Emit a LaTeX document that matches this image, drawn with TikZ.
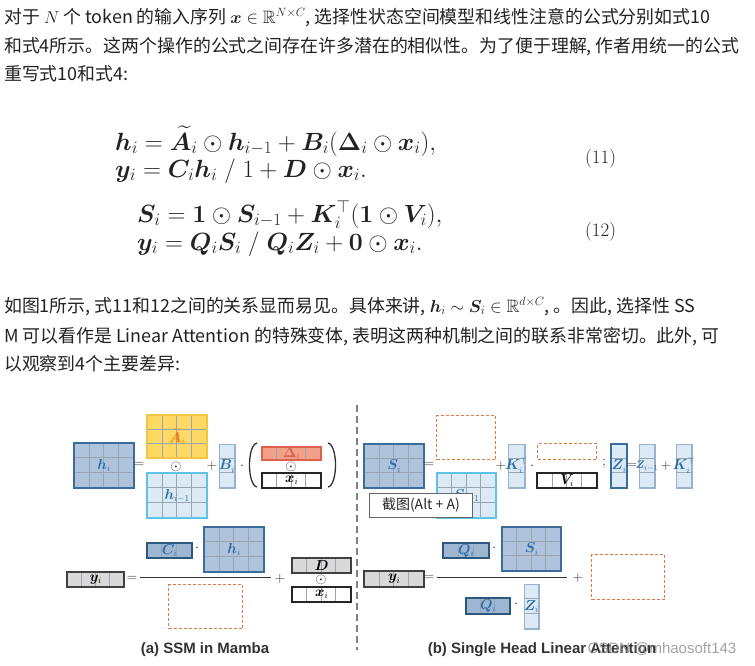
\documentclass[tikz,border=0pt]{standalone}
\usepackage{amsmath,amssymb,bm}
\usepackage{fontspec}
\newfontfamily\cjk{Noto Sans CJK SC}
\newfontfamily\arl{Liberation Sans}
\definecolor{txt}{HTML}{222222}
\definecolor{dblue}{HTML}{3A6D9C}
\definecolor{lblue}{HTML}{2E6DA8}
\definecolor{fdark}{HTML}{AFC4DC}
\definecolor{fmid}{HTML}{C3D5E8}
\definecolor{flight}{HTML}{DCEAF6}
\definecolor{cyanb}{HTML}{5EC4E4}
\definecolor{ylw}{HTML}{FFD966}
\definecolor{ylwb}{HTML}{F2C640}
\definecolor{salm}{HTML}{F2A08A}
\definecolor{salmb}{HTML}{E0604A}
\definecolor{dash}{HTML}{E07A45}
\definecolor{gfill}{HTML}{D9D9D9}
\definecolor{gl}{HTML}{9AA6B2}
\tikzset{
 hbox/.style={fill=fdark,draw=dblue,line width=1.2pt},
 sbox/.style={fill=fdark,draw=dblue,line width=1.2pt},
 abox/.style={fill=ylw,draw=ylwb,line width=1.2pt},
 cbox/.style={fill=flight,draw=cyanb,line width=1.2pt},
 bbox/.style={fill=flight,draw=fdark!80!dblue,line width=1pt},
 zbox/.style={fill=flight,draw=dblue,line width=1.2pt},
 dbox/.style={fill=salm,draw=salmb,line width=1.2pt},
 xbox/.style={fill=white,draw=black!85,line width=1.3pt},
 gbx/.style={fill=gfill,draw=black!75,line width=1.3pt},
 qbox/.style={fill=fdark!85!dblue,draw=dblue!80!black,line width=1.3pt},
 dashbox/.style={draw=dash,line width=1.4pt,dash pattern=on 3pt off 2pt},
 gridl/.style={draw=gl,line width=0.5pt},
 lab/.style={font=\fontsize{13.5}{14}\selectfont,text=lblue},
 op/.style={font=\fontsize{14}{15}\selectfont,text=black!80},
 para/.style={anchor=base west,inner sep=0,text=txt,font=\cjk\fontsize{17.9}{20}\selectfont},
 eq/.style={anchor=base west,inner sep=0,text=txt,font=\fontsize{23}{26}\selectfont},
}
% name,x1,y1,x2,y2,cols,rows,style,label
\newcommand\gbox[9]{%
 \node[#8,anchor=north west,inner sep=0,minimum width={(#4-#2)*1pt},minimum height={(#5-#3)*1pt}] (#1) at (#2,#3) {};
 \foreach \k in {1,...,#6}{\ifnum\k<#6 \pgfmathsetmacro\xx{#2+(#4-#2)*\k/#6}\draw[gridl] (\xx,#3)--(\xx,#5);\fi}
 \foreach \k in {1,...,#7}{\ifnum\k<#7 \pgfmathsetmacro\yy{#3+(#5-#3)*\k/#7}\draw[gridl] (#2,\yy)--(#4,\yy);\fi}
 \draw[#8,fill=none] (#1.north west) rectangle (#1.south east);
 \node[lab] (#1l) at (#1) {#9};
}
\begin{document}
\begin{tikzpicture}[x=1pt,y=-1pt]
\useasboundingbox[fill=white] (0,0) rectangle (755,665);
% text
\node[para] (p1) at (4,23) {对于 $N$ 个 token 的输入序列 $\bm{x}\in\mathbb{R}^{N\times C}$, 选择性状态空间模型和线性注意的公式分别如式10};
\node[para] (p2) at (4,52) {和式4所示。这两个操作的公式之间存在许多潜在的相似性。为了便于理解, 作者用统一的公式};
\node[para] (p3) at (4,80) {重写式10和式4:};
\node[eq] (e1) at (115,150) {$\bm{h}_i=\widetilde{\bm{A}}_i\odot\bm{h}_{i-1}+\bm{B}_i(\bm{\Delta}_i\odot\bm{x}_i),$};
\node[eq] (e2) at (115,177) {$\bm{y}_i=\bm{C}_i\bm{h}_i\;/\;1+\bm{D}\odot\bm{x}_i.$};
\node[eq,font=\fontsize{19}{22}\selectfont] (n11) at (585,163) {(11)};
\node[eq] (e3) at (137,222) {$\bm{S}_i=\bm{1}\odot\bm{S}_{i-1}+\bm{K}_i^{\top}(\bm{1}\odot\bm{V}_i),$};
\node[eq] (e4) at (137,250) {$\bm{y}_i=\bm{Q}_i\bm{S}_i\;/\;\bm{Q}_i\bm{Z}_i+\bm{0}\odot\bm{x}_i.$};
\node[eq,font=\fontsize{19}{22}\selectfont] (n12) at (585,236) {(12)};
\node[para] (p4) at (4,312) {如图1所示, 式11和12之间的关系显而易见。具体来讲, $\bm{h}_i\sim\bm{S}_i\in\mathbb{R}^{d\times C}$, 。因此, 选择性 SS};
\node[para] (p5) at (4,342) {M 可以看作是 Linear Attention 的特殊变体, 表明这两种机制之间的联系非常密切。此外, 可};
\node[para] (p6) at (4,370) {以观察到4个主要差异:};
% ---- left (a)
\gbox{h}{74}{443}{133}{487}{4}{3}{hbox}{$\bm{h}_i$}
\node[op] (eqa) at (139,465) {=};
\gbox{A}{147}{415}{206}{457}{4}{3}{abox}{\textcolor{orange!90!red}{$\widetilde{\bm{A}}_i$}}
\node[op] (o1) at (176,467) {$\odot$};
\gbox{hm}{147}{473}{206}{517}{4}{3}{cbox}{$\bm{h}_{i-1}$}
\node[op] (pl1) at (212,466) {+};
\gbox{B}{219}{444}{234}{487}{1}{3}{bbox}{$\bm{B}_i$}
\node[op] (d1) at (242,466) {$\cdot$};
\draw[line width=1.3pt,black!80] (257,443) .. controls (247,445) and (247,485) .. (257,487);
\draw[line width=1.3pt,black!80] (328,443) .. controls (338,445) and (338,485) .. (328,487);
\gbox{D1}{262}{447}{320}{459}{4}{1}{dbox}{\textcolor{salmb}{$\bm{\Delta}_i$}}
\node[op] (o2) at (291,467) {$\odot$};
\gbox{x1}{262}{473}{320}{487}{4}{1}{xbox}{\textcolor{black}{$\bm{x}_i$}}
\gbox{C}{147}{543}{191}{557}{3}{1}{qbox}{$\bm{C}_i$}
\node[op] (d2) at (197,548) {$\cdot$};
\gbox{h2}{204}{527}{263}{571}{4}{3}{hbox}{$\bm{h}_i$}
\gbox{y1}{67}{572}{123}{586}{4}{1}{gbx}{\textcolor{black}{$\bm{y}_i$}}
\node[op] (eqb) at (132,579) {=};
\coordinate (fa1) at (140,577); \coordinate (fa2) at (271,577);
\draw[line width=1pt,black!80] (fa1) -- (fa2);
\node[dashbox,anchor=north west,minimum width=74pt,minimum height=44pt] (da) at (168,584) {};
\node[op] (pl2) at (280,579) {+};
\gbox{Dm}{292}{558}{350}{572}{4}{1}{gbx}{\textcolor{black}{$\bm{D}$}}
\node[op] (o3) at (321,580) {$\odot$};
\gbox{x2}{292}{587}{350}{601}{4}{1}{xbox}{\textcolor{black}{$\bm{x}_i$}}
\node[font=\arl\bfseries\fontsize{15}{17}\selectfont,text=black!80] (capa) at (205,650) {(a) SSM in Mamba};
\coordinate (dv1) at (357,405); \coordinate (dv2) at (357,650);
\draw[gray,line width=1.4pt,dash pattern=on 7pt off 4pt] (dv1) -- (dv2);
% ---- right (b)
\gbox{S}{364}{444}{423}{487}{4}{3}{sbox}{$\bm{S}_i$}
\node[op] (eqc) at (429,465) {=};
\node[dashbox,anchor=north west,minimum width=59pt,minimum height=44pt] (db1) at (436,415) {};
\gbox{Sm}{437}{473}{495}{517}{4}{3}{cbox}{$\bm{S}_{i-1}$}
\node[op] (pl3) at (501,466) {+};
\gbox{K1}{508}{444}{524}{487}{1}{3}{bbox}{$\bm{K}_i^{\top}$}
\node[op] (d3) at (532,466) {$\cdot$};
\node[dashbox,anchor=north west,minimum width=59pt,minimum height=16pt] (db2) at (537,443) {};
\gbox{V}{537}{473}{596}{487}{4}{1}{xbox}{\textcolor{black}{$\bm{V}_i$}}
\node[op] (sc) at (604,464) {;};
\gbox{Z}{611}{444}{626}{487}{1}{3}{zbox}{$\bm{Z}_i$}
\node[op] (eqd) at (632,466) {=};
\gbox{Zm}{639}{444}{654}{487}{1}{3}{bbox}{\fontsize{11}{12}\selectfont$\bm{Z}_{i-1}$}
\node[op] (pl4) at (666,466) {+};
\gbox{K2}{676}{444}{691}{487}{1}{3}{bbox}{$\bm{K}_i^{\top}$}
\node[draw=black!60,fill=white,line width=0.8pt,anchor=north west,minimum width=103pt,minimum height=24pt,inner sep=0,font=\cjk\fontsize{14}{16}\selectfont,text=black!85] (tip) at (369,493) {截图(Alt + A)};
\gbox{Q1}{443}{543}{488}{557}{3}{1}{qbox}{$\bm{Q}_i$}
\node[op] (d4) at (494,548) {$\cdot$};
\gbox{S2}{502}{527}{560}{570}{4}{3}{sbox}{$\bm{S}_i$}
\gbox{y2}{364}{571}{423}{586}{4}{1}{gbx}{\textcolor{black}{$\bm{y}_i$}}
\node[op] (eqe) at (429,578) {=};
\coordinate (fb1) at (437,577); \coordinate (fb2) at (567,577);
\draw[line width=1pt,black!80] (fb1) -- (fb2);
\node[op] (pl5) at (578,578) {+};
\node[dashbox,anchor=north west,minimum width=73pt,minimum height=45pt] (db3) at (591,554) {};
\gbox{Q2}{466}{598}{509}{613}{3}{1}{qbox}{$\bm{Q}_i$}
\node[op] (d5) at (516,604) {$\cdot$};
\gbox{Z2}{524}{584}{538}{628}{1}{3}{bbox}{$\bm{Z}_i$}
\node[font=\arl\bfseries\fontsize{15}{17}\selectfont,text=black!80] (capb) at (542,650) {(b) Single Head Linear Attention};
\node[font=\arl\fontsize{15}{17}\selectfont,text=black!45,opacity=0.8] (wm) at (662,649) {CSDN @mhaosoft143};
\end{tikzpicture}
\end{document}
